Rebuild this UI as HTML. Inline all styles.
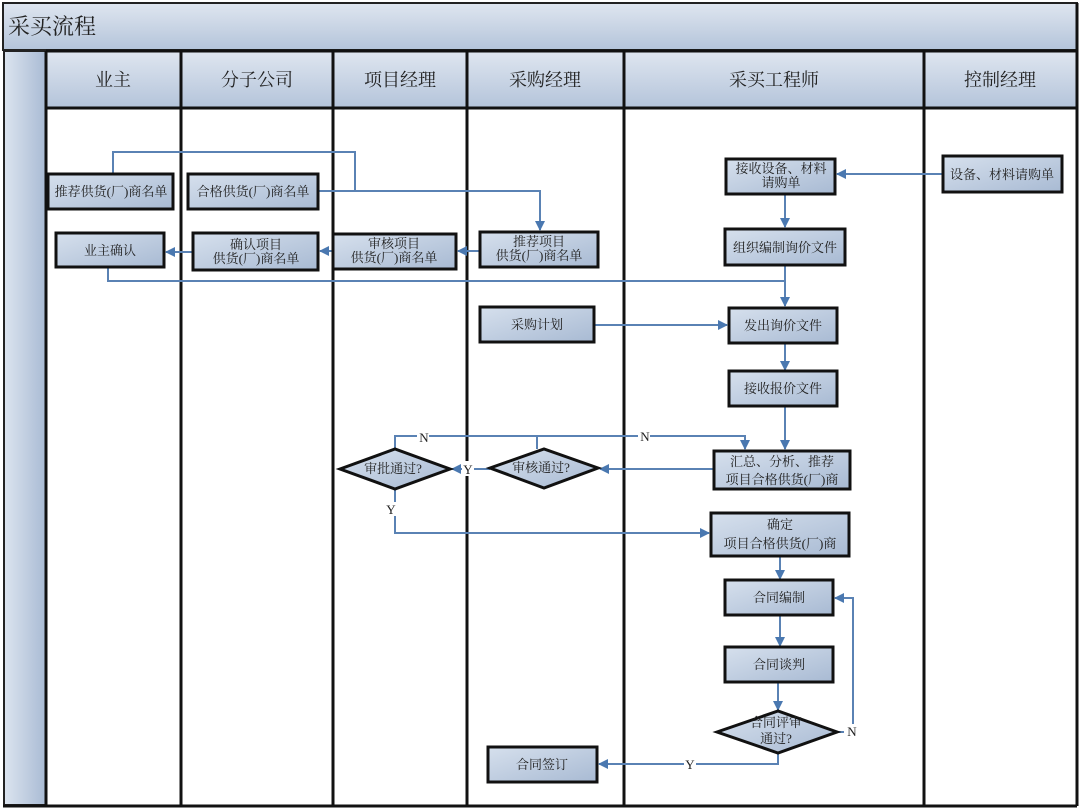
<!DOCTYPE html>
<html><head><meta charset="utf-8"><style>
html,body{margin:0;padding:0;background:#fff;width:1080px;height:810px;overflow:hidden}
text{font-family:"Liberation Serif","Noto Serif CJK SC","Noto Sans CJK SC",serif;fill:#222}
</style></head><body>
<svg width="1080" height="810" viewBox="0 0 1080 810" xmlns="http://www.w3.org/2000/svg">
<defs>
<linearGradient id="hg" x1="0" y1="0" x2="0" y2="1"><stop offset="0" stop-color="#dfe6f0"/><stop offset="1" stop-color="#b4c4da"/></linearGradient>
<linearGradient id="vg" x1="0" y1="0" x2="1" y2="0"><stop offset="0" stop-color="#dce4ef"/><stop offset="1" stop-color="#a9bbd4"/></linearGradient>
<linearGradient id="bg" x1="0" y1="0" x2="1" y2="1"><stop offset="0" stop-color="#d6e0ed"/><stop offset="1" stop-color="#a8bad3"/></linearGradient>
<marker id="a" markerWidth="10" markerHeight="10" refX="9" refY="5" orient="auto" markerUnits="userSpaceOnUse"><path d="M0,0 L10,5 L0,10 z" fill="#4a78b0"/></marker>
</defs>
<rect x="0" y="0" width="1080" height="810" fill="#fff"/>
<!-- title band -->
<rect x="3" y="3" width="1074" height="47" fill="url(#hg)" stroke="#222" stroke-width="2"/>
<text x="8" y="34" font-size="22">采买流程</text>
<!-- left bar -->
<rect x="4" y="51" width="42" height="754" fill="url(#vg)" stroke="#222" stroke-width="2"/>
<!-- headers -->
<rect x="46" y="51" width="1031" height="57" fill="url(#hg)"/>
<g stroke="#111" stroke-width="3" fill="none">
<line x1="46" y1="51" x2="1077" y2="51"/>
<line x1="46" y1="108" x2="1077" y2="108"/>
<line x1="46" y1="51" x2="46" y2="806"/>
<line x1="181" y1="51" x2="181" y2="806"/>
<line x1="333" y1="51" x2="333" y2="806"/>
<line x1="467" y1="51" x2="467" y2="806"/>
<line x1="624" y1="51" x2="624" y2="806"/>
<line x1="924" y1="51" x2="924" y2="806"/>
<line x1="1077" y1="3" x2="1077" y2="806"/>
<line x1="3" y1="806" x2="1077" y2="806"/>
</g>
<g font-size="18" text-anchor="middle">
<text x="113" y="86">业主</text>
<text x="257" y="86">分子公司</text>
<text x="400" y="86">项目经理</text>
<text x="545" y="86">采购经理</text>
<text x="774" y="86">采买工程师</text>
<text x="1000" y="86">控制经理</text>
</g>
<!-- connectors -->
<g stroke="#5a82b4" stroke-width="2" fill="none">
<polyline points="113,173 113,152 355,152 355,191"/>
<polyline points="318,191 540,191 540,230" marker-end="url(#a)"/>
<line x1="480" y1="251" x2="458" y2="251" marker-end="url(#a)"/>
<line x1="333" y1="251" x2="320" y2="251" marker-end="url(#a)"/>
<line x1="193" y1="252" x2="166" y2="252" marker-end="url(#a)"/>
<polyline points="108,267 108,281 785,281 785,306" marker-end="url(#a)"/>
<line x1="785" y1="265" x2="785" y2="281"/>
<line x1="942" y1="174" x2="837" y2="174" marker-end="url(#a)"/>
<line x1="785" y1="194" x2="785" y2="227" marker-end="url(#a)"/>
<line x1="594" y1="325" x2="727" y2="325" marker-end="url(#a)"/>
<line x1="785" y1="343" x2="785" y2="370" marker-end="url(#a)"/>
<line x1="785" y1="406" x2="785" y2="449" marker-end="url(#a)"/>
<line x1="714" y1="469" x2="600" y2="469" marker-end="url(#a)"/>
<line x1="490" y1="469" x2="452" y2="469" marker-end="url(#a)"/>
<polyline points="395,449 395,436 745,436 745,449" marker-end="url(#a)"/>
<line x1="537" y1="449" x2="537" y2="436"/>
<polyline points="395,489 395,533 709,533" marker-end="url(#a)"/>
<line x1="780" y1="556" x2="780" y2="579" marker-end="url(#a)"/>
<line x1="780" y1="615" x2="780" y2="646" marker-end="url(#a)"/>
<line x1="778" y1="682" x2="778" y2="710" marker-end="url(#a)"/>
<polyline points="837,732 853,732 853,598 835,598" marker-end="url(#a)"/>
<polyline points="778,753 778,764 599,764" marker-end="url(#a)"/>
</g>
<!-- labels on lines -->
<g font-size="13" text-anchor="middle">
<rect x="417" y="429" width="12" height="14" fill="#fff"/><text x="424" y="442">N</text>
<rect x="638" y="429" width="12" height="14" fill="#fff"/><text x="645" y="441">N</text>
<rect x="462" y="461" width="12" height="15" fill="#fff"/><text x="468" y="474">Y</text>
<rect x="384" y="502" width="12" height="14" fill="#fff"/><text x="391" y="514">Y</text>
<rect x="844" y="724" width="14" height="14" fill="#fff"/><text x="852" y="736">N</text>
<rect x="684" y="757" width="12" height="14" fill="#fff"/><text x="690" y="769">Y</text>
</g>
<!-- boxes -->
<g fill="url(#bg)" stroke="#111" stroke-width="3">
<rect x="48" y="174" width="125" height="35"/>
<rect x="188" y="174" width="130" height="35"/>
<rect x="56" y="233" width="108" height="34"/>
<rect x="193" y="233" width="125" height="37"/>
<rect x="333" y="234" width="123" height="35"/>
<rect x="480" y="232" width="118" height="35"/>
<rect x="726" y="159" width="109" height="35"/>
<rect x="943" y="156" width="119" height="36"/>
<rect x="725" y="229" width="120" height="36"/>
<rect x="480" y="307" width="114" height="35"/>
<rect x="729" y="308" width="108" height="35"/>
<rect x="729" y="371" width="108" height="35"/>
<rect x="714" y="451" width="136" height="38"/>
<rect x="711" y="513" width="138" height="43"/>
<rect x="725" y="580" width="108" height="35"/>
<rect x="725" y="647" width="108" height="35"/>
<rect x="488" y="747" width="109" height="35"/>
<polygon points="340,469 395,449 450,469 395,489"/>
<polygon points="490,468 544,449 598,468 544,488"/>
<polygon points="717,732 778,711 837,732 778,753"/>
</g>
<g font-size="13" text-anchor="middle">
<text x="111" y="196">推荐供货(厂)商名单</text>
<text x="253" y="196">合格供货(厂)商名单</text>
<text x="110" y="255">业主确认</text>
<text x="256" y="249">确认项目</text><text x="256" y="263">供货(厂)商名单</text>
<text x="394" y="248">审核项目</text><text x="394" y="262">供货(厂)商名单</text>
<text x="539" y="246">推荐项目</text><text x="539" y="260">供货(厂)商名单</text>
<text x="781" y="173">接收设备、材料</text><text x="781" y="187">请购单</text>
<text x="1002" y="179">设备、材料请购单</text>
<text x="785" y="252">组织编制询价文件</text>
<text x="537" y="329">采购计划</text>
<text x="783" y="330">发出询价文件</text>
<text x="783" y="393">接收报价文件</text>
<text x="782" y="466">汇总、分析、推荐</text><text x="782" y="484">项目合格供货(厂)商</text>
<text x="780" y="529">确定</text><text x="780" y="548">项目合格供货(厂)商</text>
<text x="779" y="602">合同编制</text>
<text x="779" y="669">合同谈判</text>
<text x="542" y="769">合同签订</text>
<text x="393" y="473">审批通过?</text>
<text x="541" y="472">审核通过?</text>
<text x="776" y="727">合同评审</text><text x="776" y="743">通过?</text>
</g>
</svg>
</body></html>
